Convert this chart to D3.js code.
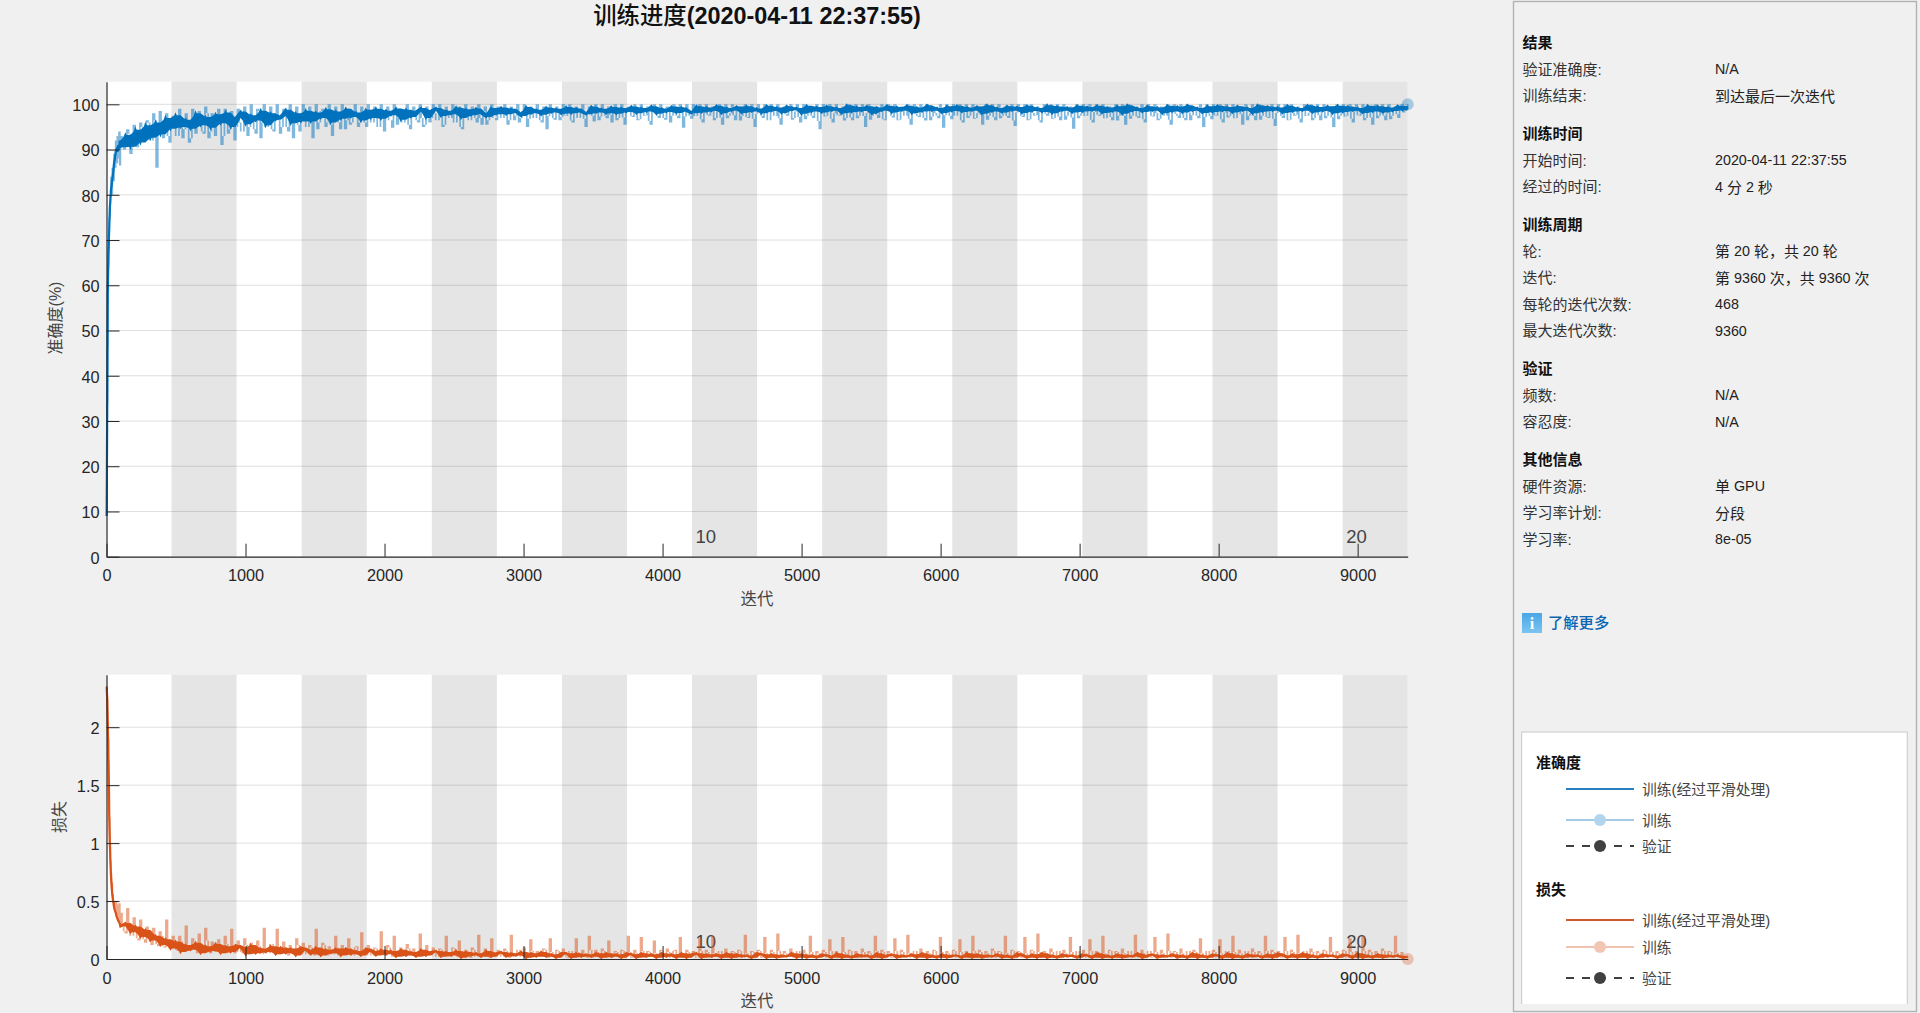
<!DOCTYPE html>
<html><head><meta charset="utf-8">
<script src="https://cdn.jsdelivr.net/npm/d3@7/dist/d3.min.js"></script>
<style>html,body{margin:0;padding:0;background:#f0f0f0;overflow:hidden}svg{display:block}
text{font-family:"Liberation Sans","Noto Sans CJK SC",sans-serif}</style></head><body>
<svg id="c" width="1920" height="1013"></svg>
<script>
const itersPerEpoch = 468, maxIter = 9360, shadedEpochs = [2,4,6,8,10,12,14,16,18,20], labelledEpochs = [10,20];
const earlyIters = [1,3,5,7,9,12,14,17,20,24,28,32,36,42,48,54,60,66,72,78,84,90,96,100];
const accTicks = [0,10,20,30,40,50,60,70,80,90,100];
const lossTicks = [0,0.5,1,1.5,2];
const iterTicks = [0,1000,2000,3000,4000,5000,6000,7000,8000,9000];

const accRawEarly = [9,22,34,46,60,64,68,72,75,78,80,84,80,86,83,89,86,92,87,93,88,94,86.5,93];
const accRaw = [
90,94.5,89,95.5,90.5,96,91.5,96.5,92,98,86,98.5,92.5,98,91.5,97.5,
93,99,92.5,98,91.5,99,93.5,98.5,94,99.5,92.5,98,93,99,91,99,93.5,98.5,92,99,
94,99.5,93,100,94.5,99,92.5,100,95,99.5,94,100,93.5,99,95,100,92.5,99.5,94,100,
95,99.5,92.5,100,96,99,95,100,93,99.5,96,100,94.5,99,96,100,95,99.5,96,100,
96,99.5,95,100,94,99.5,96.5,100,95.5,99,96,100,94.5,99.5,96.5,100,95,99.5,96,100,
96.5,100,95,99.5,97,100,96,99.5,94.5,100,96.5,99.5,97,100,95.5,99.5,96.5,100,97,99.5,
97,100,95.5,99.5,96.5,100,97,100,95,99.5,97,100,96.5,99.5,94.5,100,97,99.5,96.5,100,
97.5,100,96,99.5,97,100,95,99.5,97.5,100,96.5,100,97.5,99.5,96,100,97,100,95.5,99.5,
97.5,100,96.5,100,97.5,99.5,95.5,100,97.5,100,97,99.5,96,100,97.5,100,94.8,100,97.5,100,
97.5,100,96,100,97.5,99.5,97,100,95.5,100,97.5,100,96.5,99.5,97.5,100,97,100,95,100,
97.5,100,96.5,100,97.5,100,95.5,99.5,97.5,100,97,100,96,100,97.5,99.5,97,100,94.5,100,
97.5,100,96,100,97.5,99.5,97,100,96.5,100,97.5,100,95,100,97.5,99.5,97,100,96.5,100,
97.5,100,96.5,99.5,97.5,100,95.5,100,97.5,100,97,100,96.5,99.5,97.5,100,94.8,100,97.5,100,
97.5,100,96,100,97.5,100,97,99.5,95.5,100,97.5,100,96.5,100,97.5,99.5,97,100,95.2,100,
97.5,100,96.5,100,97.5,99.5,96,100,97.5,100,97,100,96.5,100,97.5,99.5,94.6,100,97.5,100,
97.5,100,96,100,97.5,100,97,99.5,96.5,100,97.5,100,95.5,100,97.5,99.5,97,100,96,100,
97.5,100,96.5,99.5,97.5,100,95.5,100,97.5,100,97,100,96.5,99.5,97.5,100,95,100,97.5,100,
97.5,100,96,100,97.5,100,97,99.5,95.5,100,97.5,100,96.5,100,97.5,99.5,97,100,95.2,100,
97.5,100,96.5,100,97.5,99.5,96,100,97.5,100,97,100,96.5,100,97.5,99.5,95,100,97.5,100,
97.5,100,96,100,97.5,100,97,99.5,95.5,100,97.5,100,96.5,100,97.5,99.5,97,100,98.5,100];
const accRawMid = [
92,91,93.5,90.5,94,92.5,95,93,96,92,96.5,93.5,95,96.5,93,97,
95.5,93,97,94.5,96,92.5,97.5,95,96.5,93.5,98,94,97,95.5,96,93,97.5,94.5,96.5,95,
96,94,98,95,97,93.5,98.5,96,95,97.5,94.5,98,96.5,95,98,94,97,96,95.5,98,
97,95,98,96.5,94.5,98.5,97,96,95.5,98,97,94.5,98.5,96.5,95.5,98,97.5,96,98,95,
97.5,96,98.5,95,97,98,96.5,94.8,98.5,97,96,98,95.5,97.5,98.5,96,97,95.5,98.5,97,
98,96.5,97.5,95.5,98.5,97,96,98,95,98.5,97.5,96.5,98,96,97,98.5,95.5,98,97,96.5,
98.5,97,98,96.5,98.8,97.5,96,98.5,97.8,96.8,98.8,97,98.2,96,98.6,97.4,98.8,96.6,98,97.2,
97.6,98.8,96.4,98.2,97,98.6,96.8,97.9,98.8,96.2,98.3,97.3,98.7,96.9,97.7,98.9,96.5,98.1,97.1,98.5,
98.8,97.2,98.1,96.7,98.6,97.6,96.3,98.9,97.9,97,98.4,96.6,98.7,97.5,98,96.9,98.8,97.3,98.3,96.8,
97.4,98.9,96.7,98.2,97.7,98.7,96.5,98.4,97.1,98.9,96.9,98,97.6,98.6,96.4,98.3,97.2,98.8,96.8,97.9,
98.6,97,98.3,96.5,98.9,97.4,96.9,98.1,97.8,98.7,96.6,98.4,97.2,98.9,96.7,98,97.5,98.6,96.3,98.2,
97.3,98.8,96.8,98,97.6,98.9,96.4,98.5,97.1,98.2,96.9,98.7,97.4,98.1,96.6,98.9,97.7,98.3,96.7,98.6,
98.9,97.1,98.2,96.6,98.5,97.5,96.8,98.8,97.9,97.2,98.4,96.4,98.7,97.3,98.1,96.9,98.9,97.6,98.3,96.7,
97.5,98.7,96.5,98.3,97,98.9,96.8,98.1,97.7,98.6,96.6,98.4,97.2,98.8,96.9,98,97.4,98.9,96.4,98.2,
98.4,97.2,98.9,96.7,98.1,97.6,96.5,98.6,97.9,98.8,96.8,98.2,97.3,98.7,96.6,98.4,97.1,98.9,96.9,98,
97.4,98.8,96.6,98.3,97.7,98.9,96.9,98.1,97.2,98.5,96.4,98.7,97.5,98,96.8,98.9,97.3,98.4,96.7,98.6,
98.7,97.3,98.1,96.8,98.9,97.5,96.6,98.4,97.9,97,98.8,96.5,98.2,97.6,98.6,96.9,98.9,97.2,98,96.7,
97.6,98.9,96.7,98.2,97.1,98.6,96.9,98.4,97.8,98.8,96.5,98,97.4,98.9,96.6,98.3,97.2,98.7,96.8,98.1,
98.5,97,98.9,96.6,98.2,97.7,96.8,98.7,97.4,98.1,96.5,98.9,97.6,98.3,96.9,98.6,97.1,98.8,96.7,98,
97.3,98.7,96.8,98.4,97.6,98.9,96.5,98.2,97.1,98.6,96.9,98.8,97.5,98,96.7,98.5,97.8,98.9,98.2,98.8];

const accSmoothEarly = [9,20,32,44,58,63,66,70,73,77,79,81,82,83.5,85,87,88,89.5,90,89.5,91,90,92,90.5];
const accSmooth = [
93.2,90.6,94.4,91.6,95.4,92.6,96,93.4,97,94.6,
97.6,95,96.6,94.6,98,95.4,97.2,94.8,97.8,95.8,98.2,95,97,
98.4,95.6,97.6,96.4,98.6,95.4,98,96.6,97.4,98.8,95.8,98,96.2,
98.6,96.2,98.2,97,98.9,96,98.4,96.8,99,97.2,98.2,96.4,98.8,
97,99,96.8,98.6,97.6,99.1,96.6,98.8,97.2,98.4,99.2,97,98.6,
99.2,97.4,98.6,97.8,99.3,97,98.9,97.6,99.1,98,97.2,99.2,97.8,
99.3,97.8,99,98.2,97.4,99.4,98,98.8,97.7,99.3,98.2,99,97.9,
99.4,98,99.1,98.3,97.8,99.5,98.2,99,98,99.4,97.9,99.2,98.3,
99.5,98,99.2,98.4,99.6,97.9,99.1,98.3,99.5,98.1,99.3,98.5,98,
99.6,98.2,99.3,98.5,99.7,98,99.2,98.6,99.5,98.1,99.6,98.4,99.1,
98,99.7,98.5,99.3,98.1,99.6,98.7,99.2,97.9,99.7,98.4,99.4,98.2,
99.6,98.6,99.2,98,99.8,98.3,99.4,98.5,99.6,97.9,99.3,98.6,99.7,
98.2,99.4,98.6,99.7,98,99.3,98.4,99.8,98.6,99.2,98.1,99.6,98.5,
99.7,98.3,99.3,98.6,99.5,97.9,99.8,98.4,99.2,98.2,99.6,98.6,99.4,
98.1,99.7,98.5,99.2,98.3,99.8,98,99.5,98.6,99.3,98.2,99.7,98.4,
99.4,98.6,99.7,98.1,99.3,98.4,99.6,97.9,99.8,98.5,99.2,98.3,99.6,
98.6,99.3,98,99.7,98.4,99.5,98.2,99.8,98.6,99.2,98.1,99.6,98.3,
99.7,98.5,99.4,98.2,99.6,98.6,99.2,98,99.8,98.4,99.5,98.6,99.3,
98.1,99.7,98.4,99.2,98.6,99.8,98.2,99.4,98.5,99.6,98,99.7,98.3,
99.5,98.6,99.2,98.1,99.7,98.4,99.6,98.2,99.3,98.5,99.7,98.7,99.5];

const lossRawEarly = [2.35,2.3,2.25,2.15,2.05,1.9,1.72,1.5,1.22,1.0,.85,.74,.66,.56,.5,.48,.44,.5,.38,.47,.33,.48,.3,.4];
const lossRaw = [
.24,.44,.2,.36,.18,.34,.17,.28,.15,.27,.13,.24,.11,.34,.09,.2,
.08,.2,.09,.29,.07,.18,.08,.22,.06,.27,.07,.15,.06,.17,.08,.2,.06,.26,.05,.16,
.06,.18,.05,.14,.07,.16,.04,.27,.05,.13,.06,.26,.04,.15,.05,.12,.04,.18,.05,.14,
.04,.12,.05,.26,.03,.14,.04,.11,.05,.2,.03,.12,.04,.18,.03,.1,.04,.23,.03,.12,
.03,.1,.04,.24,.03,.12,.04,.2,.03,.1,.02,.13,.03,.09,.04,.22,.02,.12,.03,.1,
.02,.09,.03,.2,.02,.1,.03,.16,.02,.08,.03,.1,.02,.21,.03,.09,.02,.18,.02,.08,
.02,.09,.03,.21,.02,.08,.02,.1,.03,.17,.02,.07,.02,.09,.03,.18,.02,.08,.01,.09,
.02,.07,.01,.18,.02,.08,.02,.2,.01,.08,.02,.09,.02,.16,.01,.07,.02,.08,.01,.2,
.01,.08,.02,.19,.01,.07,.02,.16,.01,.08,.02,.09,.01,.07,.02,.19,.01,.08,.01,.07,
.01,.18,.02,.08,.01,.2,.02,.07,.01,.09,.02,.07,.01,.08,.01,.21,.02,.07,.01,.08,
.01,.19,.02,.08,.01,.22,.01,.07,.02,.09,.01,.07,.02,.08,.01,.2,.01,.07,.02,.08,
.01,.17,.02,.07,.01,.19,.01,.08,.02,.07,.01,.09,.01,.07,.02,.2,.01,.08,.01,.07,
.01,.18,.02,.08,.01,.21,.01,.07,.02,.09,.01,.07,.01,.08,.02,.19,.01,.07,.01,.08,
.01,.17,.02,.07,.01,.2,.01,.08,.02,.07,.01,.09,.01,.07,.02,.2,.01,.08,.01,.07,
.01,.19,.02,.08,.01,.22,.01,.07,.02,.09,.01,.07,.01,.08,.02,.19,.01,.07,.01,.08,
.01,.17,.02,.07,.01,.2,.01,.08,.02,.07,.01,.09,.01,.07,.02,.21,.01,.08,.01,.07,
.01,.19,.02,.08,.01,.22,.01,.07,.02,.09,.01,.07,.01,.08,.02,.18,.01,.07,.01,.08,
.01,.17,.02,.07,.01,.2,.01,.08,.02,.07,.01,.09,.01,.07,.02,.2,.01,.08,.01,.07,
.01,.19,.02,.08,.01,.21,.01,.07,.02,.09,.01,.07,.01,.08,.02,.19,.01,.07,.01,.08,
.01,.18,.02,.07,.01,.2,.01,.08,.02,.07,.01,.09,.01,.07,.02,.2,.01,.06,.01,.02];
const lossRawMid = [
.28,.22,.3,.2,.24,.16,.22,.14,.2,.12,.17,.11,.2,.1,.14,.09,
.12,.07,.15,.06,.11,.08,.14,.05,.1,.07,.16,.05,.12,.08,.1,.05,.13,.07,.09,.06,
.1,.05,.12,.04,.09,.06,.11,.04,.09,.05,.13,.04,.08,.06,.1,.03,.09,.05,.12,.04,
.09,.04,.1,.03,.08,.05,.12,.03,.07,.04,.1,.03,.08,.05,.09,.03,.11,.04,.07,.03,
.08,.03,.09,.04,.07,.03,.1,.02,.07,.04,.08,.02,.09,.03,.06,.04,.08,.02,.07,.03,
.07,.02,.08,.03,.06,.02,.09,.02,.06,.03,.07,.01,.08,.02,.05,.03,.07,.01,.06,.02,
.06,.02,.07,.01,.05,.03,.08,.02,.06,.01,.07,.03,.05,.02,.08,.01,.06,.02,.07,.03,
.05,.01,.07,.02,.06,.03,.05,.01,.08,.02,.06,.01,.07,.02,.05,.03,.06,.01,.07,.02,
.06,.02,.05,.01,.07,.02,.06,.03,.05,.01,.07,.02,.06,.01,.08,.02,.05,.01,.06,.03,
.05,.01,.07,.02,.06,.01,.05,.02,.07,.03,.05,.01,.06,.02,.07,.01,.05,.02,.06,.01,
.07,.02,.05,.01,.06,.03,.07,.01,.05,.02,.06,.01,.07,.02,.05,.01,.06,.03,.05,.02,
.06,.01,.07,.02,.05,.01,.06,.02,.07,.01,.05,.03,.06,.02,.05,.01,.07,.02,.06,.01,
.05,.02,.07,.01,.06,.03,.05,.01,.07,.02,.06,.01,.05,.02,.07,.01,.06,.02,.05,.03,
.07,.01,.06,.02,.05,.01,.07,.03,.06,.02,.05,.01,.07,.02,.06,.01,.05,.02,.07,.01,
.06,.02,.05,.01,.07,.02,.06,.03,.05,.01,.06,.02,.07,.01,.05,.02,.06,.01,.07,.03,
.05,.01,.07,.02,.06,.01,.05,.02,.07,.03,.06,.01,.05,.02,.07,.01,.06,.02,.05,.01,
.07,.02,.06,.01,.05,.03,.07,.02,.06,.01,.05,.02,.07,.01,.06,.03,.05,.02,.07,.01,
.06,.01,.05,.02,.07,.01,.06,.02,.05,.03,.07,.01,.06,.02,.05,.01,.07,.02,.06,.01,
.05,.02,.07,.01,.06,.03,.05,.02,.07,.01,.06,.02,.05,.01,.07,.03,.06,.01,.05,.02,
.07,.01,.06,.02,.05,.01,.07,.02,.06,.03,.05,.01,.07,.02,.06,.01,.05,.02,.03,.01];

const lossSmoothEarly = [2.35,2.3,2.25,2.15,2.03,1.88,1.7,1.5,1.2,1.0,.84,.72,.64,.55,.5,.45,.42,.4,.37,.35,.33,.32,.3,.28];
const lossSmooth = [
.31,.23,.28,.19,.25,.16,.2,.12,.17,.09,
.15,.06,.12,.08,.14,.05,.11,.07,.13,.05,.11,.06,.12,
.1,.04,.12,.05,.09,.06,.11,.04,.1,.05,.09,.03,.1,
.08,.04,.1,.03,.08,.05,.09,.03,.09,.04,.07,.03,.09,
.07,.03,.08,.04,.07,.02,.08,.03,.06,.02,.08,.03,.06,
.07,.02,.06,.03,.07,.01,.06,.03,.05,.02,.07,.02,.05,
.06,.02,.05,.03,.06,.01,.05,.02,.06,.02,.04,.01,.05,
.05,.01,.05,.02,.04,.02,.05,.01,.05,.02,.04,.01,.05,
.04,.01,.05,.02,.04,.01,.05,.02,.04,.01,.05,.01,.04,
.05,.01,.04,.02,.04,.01,.05,.01,.04,.02,.03,.01,.05,
.04,.01,.04,.01,.03,.02,.05,.01,.04,.01,.03,.01,.04,
.03,.01,.05,.01,.03,.01,.04,.02,.03,.01,.05,.01,.03,
.04,.01,.03,.02,.04,.01,.05,.01,.03,.01,.04,.01,.03,
.03,.01,.05,.01,.04,.01,.03,.02,.04,.01,.03,.01,.05,
.03,.01,.04,.01,.05,.01,.03,.01,.04,.02,.03,.01,.04,
.03,.01,.05,.01,.03,.01,.04,.01,.03,.02,.05,.01,.03,
.04,.01,.03,.02,.04,.01,.03,.01,.05,.01,.03,.01,.04,
.03,.01,.05,.01,.03,.01,.04,.02,.03,.01,.04,.01,.05,
.03,.01,.04,.01,.05,.01,.03,.01,.04,.02,.03,.01,.04,
.03,.01,.05,.01,.03,.01,.04,.01,.03,.02,.03,.01,.02];

const finalAcc = 100, finalLoss = 0;
const titleCjk = "训练进度", titleStamp = "(2020-04-11 22:37:55)";
const yLabelAcc = "准确度(%)", yLabelLoss = "损失", xLabel = "迭代";
const panelSections = [
  ["结果", [["验证准确度:","N/A"],["训练结束:","到达最后一次迭代"]]],
  ["训练时间", [["开始时间:","2020-04-11 22:37:55"],["经过的时间:","4 分 2 秒"]]],
  ["训练周期", [["轮:","第 20 轮，共 20 轮"],["迭代:","第 9360 次，共 9360 次"],["每轮的迭代次数:","468"],["最大迭代次数:","9360"]]],
  ["验证", [["频数:","N/A"],["容忍度:","N/A"]]],
  ["其他信息", [["硬件资源:","单 GPU"],["学习率计划:","分段"],["学习率:","8e-05"]]]
];
const learnMore = "了解更多";
const legendHeads = ["准确度","损失"];
const legendSmoothLabel = "训练(经过平滑处理)", legendRawLabel = "训练", legendValLabel = "验证";

const svg = d3.select("#c");
const X0 = 106.5, X1 = 1407.7;
const x = d3.scaleLinear().domain([0, maxIter]).range([X0, X1]);
const yA = d3.scaleLinear().domain([0, 105]).range([556.7, 81.7]);
const yL = d3.scaleLinear().domain([0, 2.453]).range([959, 674.7]);
function withIters(early, late){
  const s = earlyIters[earlyIters.length-1];
  const it = earlyIters.slice();
  late.forEach((v,i)=>it.push(s + (i+1)*(maxIter-s)/late.length));
  return early.concat(late).map((v,i)=>[it[i],v]);
}
const interleave = (a,b)=>a.flatMap((v,i)=>i<b.length?[b[i],v]:[v]);
function panel(y, ticks, fmt, raw, smooth, rawCol, smoothCol, final, yLab, yLabX, yLabY, xLabY, epochY){
  const g = svg.append("g");
  const [yb, yt] = y.range();
  g.append("rect").attr("x",X0).attr("y",yt).attr("width",X1-X0).attr("height",yb-yt).attr("fill","#fff");
  g.selectAll("rect.b").data(shadedEpochs).join("rect").attr("class","b")
    .attr("x",e=>x((e-1)*itersPerEpoch)).attr("width",e=>x(e*itersPerEpoch)-x((e-1)*itersPerEpoch))
    .attr("y",yt).attr("height",yb-yt).attr("fill","#e5e5e5");
  g.selectAll("line.g").data(ticks.filter(t=>t>0)).join("line").attr("class","g")
    .attr("x1",X0).attr("x2",X1).attr("y1",d=>y(d)).attr("y2",d=>y(d))
    .attr("stroke","#262626").attr("stroke-opacity",.15).attr("stroke-width",1);
  g.selectAll("text.ep").data(labelledEpochs).join("text").attr("class","ep")
    .attr("x",e=>x((e-1)*itersPerEpoch)+3.5).attr("y",epochY).attr("dominant-baseline","central")
    .attr("font-size",18.5).attr("fill","#444").text(e=>e);
  // raw series: each sample is the pixel-column stroke from the previous sample to it, as a dense line renders
  const rawD = raw.slice(1).map((d,i)=>"M"+x(d[0])+","+y(raw[i][1])+"V"+y(d[1])).join("");
  g.append("path").attr("d",rawD).attr("fill","none").attr("stroke",rawCol).attr("stroke-opacity",.5).attr("stroke-width",1.7);
  // smoothed series: jagged band between consecutive samples
  const env = smooth.slice(1).map((d,i)=>({x:d[0],a:Math.min(d[1],smooth[i][1]),b:Math.max(d[1],smooth[i][1])}));
  const area = d3.area().x(d=>x(d.x)).y0(d=>y(d.a)).y1(d=>y(d.b));
  g.append("path").attr("d",area(env)).attr("fill",smoothCol);
  const line = d3.line().x(d=>x(d[0])).y(d=>y(d[1]));
  g.append("path").attr("d",line(smooth)).attr("fill","none").attr("stroke",smoothCol).attr("stroke-width",2.2);
  g.append("circle").attr("cx",x(maxIter)).attr("cy",y(final)).attr("r",6).attr("fill",rawCol).attr("fill-opacity",.3);
  const ax = d3.axisLeft(y).tickValues(ticks).tickFormat(fmt).tickSizeInner(-13).tickSizeOuter(0).tickPadding(7);
  const a = g.append("g").attr("transform",`translate(${X0},0)`).call(ax);
  const bx = d3.axisBottom(x).tickValues(iterTicks).tickFormat(d=>d).tickSizeInner(-13).tickSizeOuter(0).tickPadding(13);
  const b = g.append("g").attr("transform",`translate(0,${yb})`).call(bx);
  [a,b].forEach(s=>{
    s.selectAll("path").attr("stroke","#262626").attr("stroke-width",1.2);
    s.selectAll("line").attr("stroke","#262626");
    s.selectAll("text").attr("font-size",16.3).attr("fill","#262626").attr("font-family",'"Liberation Sans",sans-serif');
  });
  a.selectAll("text").attr("transform","translate(0,1.2)");
  g.append("text").attr("x",757).attr("y",xLabY).attr("text-anchor","middle").attr("dominant-baseline","central")
    .attr("font-size",16.5).attr("fill","#444").text(xLabel);
  g.append("text").attr("transform",`translate(${yLabX},${yLabY}) rotate(-90)`).attr("text-anchor","middle").attr("dominant-baseline","central")
    .attr("font-size",16).attr("fill","#444").text(yLab);
}
panel(yA, accTicks, d=>d, withIters(accRawEarly,interleave(accRaw,accRawMid)), withIters(accSmoothEarly,accSmooth), "#0072bd", "#0072bd", finalAcc, yLabelAcc, 55, 318, 599, 536.3);
panel(yL, lossTicks, d=>d, withIters(lossRawEarly,interleave(lossRaw,lossRawMid)), withIters(lossSmoothEarly,lossSmooth), "#d95319", "#d95319", finalLoss, yLabelLoss, 59, 817, 1000.5, 941.7);

const t = svg.append("text").attr("x",757).attr("y",15.5).attr("text-anchor","middle").attr("dominant-baseline","central").attr("font-size",23.4).attr("fill","#111");
t.append("tspan").attr("font-weight",500).text(titleCjk);
t.append("tspan").attr("font-weight",700).text(titleStamp);

// right panel
svg.append("rect").attr("x",1513.5).attr("y",1.5).attr("width",403).attr("height",1010).attr("fill","#f0f0f0").attr("stroke","#b2b2b2").attr("stroke-width",1.4);
let py = 42.6;
const LX = 1522.5, VX = 1715;
panelSections.forEach(([h,rows],si)=>{
  svg.append("text").attr("x",LX).attr("y",py).attr("dominant-baseline","central").attr("font-size",15).attr("font-weight",700).attr("fill","#111").text(h);
  rows.forEach(([l,v])=>{
    py += 26.4;
    svg.append("text").attr("x",LX).attr("y",py+.4).attr("dominant-baseline","central").attr("font-size",15).attr("fill","#333").text(l);
    const vt = svg.append("text").attr("x",VX).attr("y",py+.4).attr("dominant-baseline","central").attr("fill","#222");
    v.match(/[\x20-\x7e]+|[^\x20-\x7e]+/g).forEach(run=>{
      vt.append("tspan").attr("font-size",/[\x21-\x7e]/.test(run)||run===" "?14.3:15).style("white-space","pre").text(run);
    });
  });
  py += 38.2;
});
const iconDefs = svg.append("defs").append("linearGradient").attr("id","ig").attr("x1",0).attr("x2",0).attr("y1",0).attr("y2",1);
iconDefs.append("stop").attr("offset",0).attr("stop-color","#4aa6e6");
iconDefs.append("stop").attr("offset",1).attr("stop-color","#7cc4f2");
svg.append("rect").attr("x",1522).attr("y",613).attr("width",20).attr("height",20).attr("fill","url(#ig)");
svg.append("text").attr("x",1532).attr("y",623.5).attr("text-anchor","middle").attr("dominant-baseline","central").attr("font-size",16).attr("font-weight",700).attr("fill","#fff").style("font-family","Liberation Serif").text("i");
svg.append("text").attr("x",1548).attr("y",622.6).attr("dominant-baseline","central").attr("font-size",15.3).attr("font-weight",500).attr("fill","#0c64b4").text(learnMore);

// legend
svg.append("rect").attr("x",1521.7).attr("y",732).attr("width",385.6).attr("height",272).attr("fill","#fff");
svg.append("path").attr("d",d3.line()([[1521.7,1004],[1521.7,732],[1907.3,732],[1907.3,1004]])).attr("fill","none").attr("stroke","#c8c8c8").attr("stroke-width",1);
const LL0 = 1566, LL1 = 1634, LM = 1600, LT = 1642;
function legendGroup(head, headY, ys, smoothC, rawC, rawM){
  svg.append("text").attr("x",1536).attr("y",headY).attr("dominant-baseline","central").attr("font-size",15).attr("font-weight",700).attr("fill","#111").text(head);
  const lab=(s,yy)=>svg.append("text").attr("x",LT).attr("y",yy+.7).attr("dominant-baseline","central").attr("font-size",14.8).attr("fill","#444").text(s);
  svg.append("line").attr("x1",LL0).attr("x2",LL1).attr("y1",ys[0]).attr("y2",ys[0]).attr("stroke",smoothC).attr("stroke-width",2);
  lab(legendSmoothLabel,ys[0]);
  svg.append("line").attr("x1",LL0).attr("x2",LL1).attr("y1",ys[1]).attr("y2",ys[1]).attr("stroke",rawC).attr("stroke-width",2);
  svg.append("circle").attr("cx",LM).attr("cy",ys[1]).attr("r",6).attr("fill",rawM);
  lab(legendRawLabel,ys[1]);
  svg.append("line").attr("x1",LL0).attr("x2",LL1).attr("y1",ys[2]).attr("y2",ys[2]).attr("stroke","#404040").attr("stroke-width",2).attr("stroke-dasharray","8 8");
  svg.append("circle").attr("cx",LM).attr("cy",ys[2]).attr("r",6).attr("fill","#404040");
  lab(legendValLabel,ys[2]);
}
legendGroup(legendHeads[0],762.7,[789,820,846],"#2a7fc0","#a3cbe6","#b2d4ec");
legendGroup(legendHeads[1],889.3,[920,947,978],"#cc5a2e","#efc3b0","#f2c6b5");
</script></body></html>
